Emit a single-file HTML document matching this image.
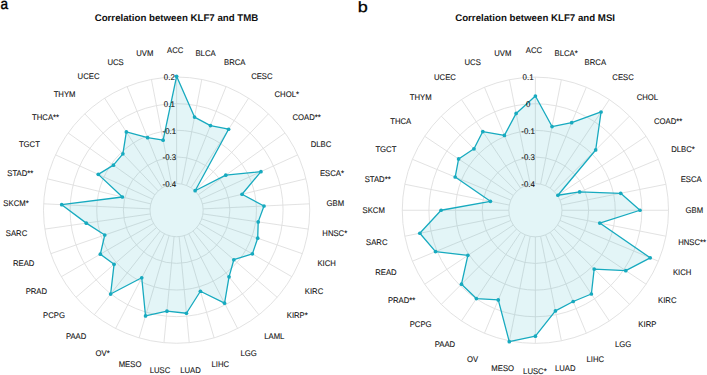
<!DOCTYPE html>
<html><head><meta charset="utf-8"><style>
html,body{margin:0;padding:0;background:#fff;}
body{width:707px;height:375px;overflow:hidden;}
svg{display:block;font-family:"Liberation Sans",sans-serif;text-rendering:geometricPrecision;}
.lb{font-size:8.3px;fill:#111;stroke:#111;stroke-width:0.1px;text-anchor:middle;dominant-baseline:central;}
.tk{font-size:8.4px;fill:#111;stroke:#111;stroke-width:0.1px;text-anchor:middle;dominant-baseline:central;}
.tt{font-size:9.7px;font-weight:bold;fill:#111;}
.pl{font-size:15px;font-weight:bold;fill:#000;}
</style></head><body>
<svg width="707" height="375" viewBox="0 0 707 375">
<rect width="707" height="375" fill="#fff"/>
<text transform="translate(0.55,8.85) scale(0.88,1)" class="pl" style="font-size:15.5px;font-weight:normal;stroke:#000;stroke-width:0.4px">a</text>
<text transform="translate(357.7,11.6) scale(1.2,1)" class="pl" style="font-weight:normal;stroke:#000;stroke-width:0.25px">b</text>
<text x="94.7" y="21" class="tt">Correlation between KLF7 and TMB</text>
<text x="455.2" y="21" class="tt">Correlation between KLF7 and MSI</text>
<circle cx="176.6" cy="210.15" r="26.60" fill="none" stroke="#dfdfdf" stroke-width="0.9"/>
<circle cx="176.6" cy="210.15" r="53.23" fill="none" stroke="#dfdfdf" stroke-width="0.9"/>
<circle cx="176.6" cy="210.15" r="79.86" fill="none" stroke="#dfdfdf" stroke-width="0.9"/>
<circle cx="176.6" cy="210.15" r="106.49" fill="none" stroke="#dfdfdf" stroke-width="0.9"/>
<circle cx="176.6" cy="210.15" r="133.12" fill="none" stroke="#dfdfdf" stroke-width="0.9"/>
<line x1="176.60" y1="183.55" x2="176.60" y2="77.03" stroke="#dfdfdf" stroke-width="0.9"/>
<line x1="181.63" y1="184.03" x2="201.79" y2="79.44" stroke="#dfdfdf" stroke-width="0.9"/>
<line x1="186.49" y1="185.46" x2="226.08" y2="86.57" stroke="#dfdfdf" stroke-width="0.9"/>
<line x1="190.98" y1="187.77" x2="248.57" y2="98.16" stroke="#dfdfdf" stroke-width="0.9"/>
<line x1="194.96" y1="190.90" x2="268.46" y2="113.81" stroke="#dfdfdf" stroke-width="0.9"/>
<line x1="198.27" y1="194.72" x2="285.04" y2="132.93" stroke="#dfdfdf" stroke-width="0.9"/>
<line x1="200.80" y1="199.10" x2="297.69" y2="154.85" stroke="#dfdfdf" stroke-width="0.9"/>
<line x1="202.45" y1="203.88" x2="305.97" y2="178.77" stroke="#dfdfdf" stroke-width="0.9"/>
<line x1="203.17" y1="208.88" x2="309.57" y2="203.82" stroke="#dfdfdf" stroke-width="0.9"/>
<line x1="202.93" y1="213.94" x2="308.37" y2="229.09" stroke="#dfdfdf" stroke-width="0.9"/>
<line x1="201.74" y1="218.85" x2="302.40" y2="253.69" stroke="#dfdfdf" stroke-width="0.9"/>
<line x1="199.64" y1="223.45" x2="291.89" y2="276.71" stroke="#dfdfdf" stroke-width="0.9"/>
<line x1="196.70" y1="227.57" x2="277.21" y2="297.33" stroke="#dfdfdf" stroke-width="0.9"/>
<line x1="193.04" y1="231.06" x2="258.89" y2="314.79" stroke="#dfdfdf" stroke-width="0.9"/>
<line x1="188.79" y1="233.79" x2="237.60" y2="328.47" stroke="#dfdfdf" stroke-width="0.9"/>
<line x1="184.09" y1="235.67" x2="214.10" y2="337.88" stroke="#dfdfdf" stroke-width="0.9"/>
<line x1="179.13" y1="236.63" x2="189.25" y2="342.67" stroke="#dfdfdf" stroke-width="0.9"/>
<line x1="174.07" y1="236.63" x2="163.95" y2="342.67" stroke="#dfdfdf" stroke-width="0.9"/>
<line x1="169.11" y1="235.67" x2="139.10" y2="337.88" stroke="#dfdfdf" stroke-width="0.9"/>
<line x1="164.41" y1="233.79" x2="115.60" y2="328.47" stroke="#dfdfdf" stroke-width="0.9"/>
<line x1="160.16" y1="231.06" x2="94.31" y2="314.79" stroke="#dfdfdf" stroke-width="0.9"/>
<line x1="156.50" y1="227.57" x2="75.99" y2="297.33" stroke="#dfdfdf" stroke-width="0.9"/>
<line x1="153.56" y1="223.45" x2="61.31" y2="276.71" stroke="#dfdfdf" stroke-width="0.9"/>
<line x1="151.46" y1="218.85" x2="50.80" y2="253.69" stroke="#dfdfdf" stroke-width="0.9"/>
<line x1="150.27" y1="213.94" x2="44.83" y2="229.09" stroke="#dfdfdf" stroke-width="0.9"/>
<line x1="150.03" y1="208.88" x2="43.63" y2="203.82" stroke="#dfdfdf" stroke-width="0.9"/>
<line x1="150.75" y1="203.88" x2="47.23" y2="178.77" stroke="#dfdfdf" stroke-width="0.9"/>
<line x1="152.40" y1="199.10" x2="55.51" y2="154.85" stroke="#dfdfdf" stroke-width="0.9"/>
<line x1="154.93" y1="194.72" x2="68.16" y2="132.93" stroke="#dfdfdf" stroke-width="0.9"/>
<line x1="158.24" y1="190.90" x2="84.74" y2="113.81" stroke="#dfdfdf" stroke-width="0.9"/>
<line x1="162.22" y1="187.77" x2="104.63" y2="98.16" stroke="#dfdfdf" stroke-width="0.9"/>
<line x1="166.71" y1="185.46" x2="127.12" y2="86.57" stroke="#dfdfdf" stroke-width="0.9"/>
<line x1="171.57" y1="184.03" x2="151.41" y2="79.44" stroke="#dfdfdf" stroke-width="0.9"/>
<polygon points="176.60,76.30 194.53,117.11 210.44,125.62 228.60,129.23 195.13,190.72 225.77,175.14 260.95,171.63 242.04,194.27 264.00,205.99 258.20,221.88 257.70,238.22 252.37,253.90 233.84,259.74 229.03,276.82 224.56,303.17 200.41,291.24 186.45,313.27 166.95,311.21 145.54,315.94 141.74,277.77 110.63,294.04 114.05,264.35 100.34,254.18 104.77,235.01 86.29,223.13 61.70,204.68 122.42,197.01 98.25,174.37 113.44,165.18 122.88,153.81 126.35,131.97 147.60,137.70 163.12,140.22" fill="#17aabf" fill-opacity="0.12" stroke="#17aabf" stroke-width="1.3" stroke-linejoin="round"/>
<circle cx="176.60" cy="76.30" r="1.85" fill="#17aabf"/>
<circle cx="194.53" cy="117.11" r="1.85" fill="#17aabf"/>
<circle cx="210.44" cy="125.62" r="1.85" fill="#17aabf"/>
<circle cx="228.60" cy="129.23" r="1.85" fill="#17aabf"/>
<circle cx="195.13" cy="190.72" r="1.85" fill="#17aabf"/>
<circle cx="225.77" cy="175.14" r="1.85" fill="#17aabf"/>
<circle cx="260.95" cy="171.63" r="1.85" fill="#17aabf"/>
<circle cx="242.04" cy="194.27" r="1.85" fill="#17aabf"/>
<circle cx="264.00" cy="205.99" r="1.85" fill="#17aabf"/>
<circle cx="258.20" cy="221.88" r="1.85" fill="#17aabf"/>
<circle cx="257.70" cy="238.22" r="1.85" fill="#17aabf"/>
<circle cx="252.37" cy="253.90" r="1.85" fill="#17aabf"/>
<circle cx="233.84" cy="259.74" r="1.85" fill="#17aabf"/>
<circle cx="229.03" cy="276.82" r="1.85" fill="#17aabf"/>
<circle cx="224.56" cy="303.17" r="1.85" fill="#17aabf"/>
<circle cx="200.41" cy="291.24" r="1.85" fill="#17aabf"/>
<circle cx="186.45" cy="313.27" r="1.85" fill="#17aabf"/>
<circle cx="166.95" cy="311.21" r="1.85" fill="#17aabf"/>
<circle cx="145.54" cy="315.94" r="1.85" fill="#17aabf"/>
<circle cx="141.74" cy="277.77" r="1.85" fill="#17aabf"/>
<circle cx="110.63" cy="294.04" r="1.85" fill="#17aabf"/>
<circle cx="114.05" cy="264.35" r="1.85" fill="#17aabf"/>
<circle cx="100.34" cy="254.18" r="1.85" fill="#17aabf"/>
<circle cx="104.77" cy="235.01" r="1.85" fill="#17aabf"/>
<circle cx="86.29" cy="223.13" r="1.85" fill="#17aabf"/>
<circle cx="61.70" cy="204.68" r="1.85" fill="#17aabf"/>
<circle cx="122.42" cy="197.01" r="1.85" fill="#17aabf"/>
<circle cx="98.25" cy="174.37" r="1.85" fill="#17aabf"/>
<circle cx="113.44" cy="165.18" r="1.85" fill="#17aabf"/>
<circle cx="122.88" cy="153.81" r="1.85" fill="#17aabf"/>
<circle cx="126.35" cy="131.97" r="1.85" fill="#17aabf"/>
<circle cx="147.60" cy="137.70" r="1.85" fill="#17aabf"/>
<circle cx="163.12" cy="140.22" r="1.85" fill="#17aabf"/>
<text transform="translate(169.30,183.85) scale(0.94,1)" class="tk">-0.4</text>
<text transform="translate(169.30,157.22) scale(0.94,1)" class="tk">-0.3</text>
<text transform="translate(169.30,130.59) scale(0.94,1)" class="tk">-0.1</text>
<text transform="translate(169.30,103.96) scale(0.94,1)" class="tk">0.1</text>
<text transform="translate(169.30,77.33) scale(0.94,1)" class="tk">0.2</text>
<text transform="translate(175.20,50.05) scale(0.93,1)" class="lb">ACC</text>
<text transform="translate(205.54,52.95) scale(0.93,1)" class="lb">BLCA</text>
<text transform="translate(234.78,61.53) scale(0.93,1)" class="lb">BRCA</text>
<text transform="translate(261.86,75.50) scale(0.93,1)" class="lb">CESC</text>
<text transform="translate(286.72,94.34) scale(0.93,1)" class="lb">CHOL*</text>
<text transform="translate(306.68,117.37) scale(0.93,1)" class="lb">COAD**</text>
<text transform="translate(321.01,143.76) scale(0.93,1)" class="lb">DLBC</text>
<text transform="translate(331.88,172.56) scale(0.93,1)" class="lb">ESCA*</text>
<text transform="translate(335.32,202.72) scale(0.93,1)" class="lb">GBM</text>
<text transform="translate(334.77,233.16) scale(0.93,1)" class="lb">HNSC*</text>
<text transform="translate(326.68,262.78) scale(0.93,1)" class="lb">KICH</text>
<text transform="translate(314.02,290.50) scale(0.93,1)" class="lb">KIRC</text>
<text transform="translate(297.25,315.32) scale(0.93,1)" class="lb">KIRP*</text>
<text transform="translate(274.29,336.35) scale(0.93,1)" class="lb">LAML</text>
<text transform="translate(248.65,352.83) scale(0.93,1)" class="lb">LGG</text>
<text transform="translate(220.36,364.16) scale(0.93,1)" class="lb">LIHC</text>
<text transform="translate(190.44,369.92) scale(0.93,1)" class="lb">LUAD</text>
<text transform="translate(159.96,369.92) scale(0.93,1)" class="lb">LUSC</text>
<text transform="translate(130.04,364.16) scale(0.93,1)" class="lb">MESO</text>
<text transform="translate(102.65,352.83) scale(0.93,1)" class="lb">OV*</text>
<text transform="translate(76.11,336.35) scale(0.93,1)" class="lb">PAAD</text>
<text transform="translate(54.05,315.32) scale(0.93,1)" class="lb">PCPG</text>
<text transform="translate(36.38,290.50) scale(0.93,1)" class="lb">PRAD</text>
<text transform="translate(23.72,262.78) scale(0.93,1)" class="lb">READ</text>
<text transform="translate(16.53,233.16) scale(0.93,1)" class="lb">SARC</text>
<text transform="translate(15.98,202.72) scale(0.93,1)" class="lb">SKCM*</text>
<text transform="translate(20.32,172.56) scale(0.93,1)" class="lb">STAD**</text>
<text transform="translate(29.39,143.76) scale(0.93,1)" class="lb">TGCT</text>
<text transform="translate(45.52,117.37) scale(0.93,1)" class="lb">THCA**</text>
<text transform="translate(64.58,94.34) scale(0.93,1)" class="lb">THYM</text>
<text transform="translate(88.54,75.50) scale(0.93,1)" class="lb">UCEC</text>
<text transform="translate(115.62,61.53) scale(0.93,1)" class="lb">UCS</text>
<text transform="translate(144.86,52.95) scale(0.93,1)" class="lb">UVM</text>
<circle cx="535.4" cy="210.25" r="26.60" fill="none" stroke="#dfdfdf" stroke-width="0.9"/>
<circle cx="535.4" cy="210.25" r="53.23" fill="none" stroke="#dfdfdf" stroke-width="0.9"/>
<circle cx="535.4" cy="210.25" r="79.86" fill="none" stroke="#dfdfdf" stroke-width="0.9"/>
<circle cx="535.4" cy="210.25" r="106.49" fill="none" stroke="#dfdfdf" stroke-width="0.9"/>
<circle cx="535.4" cy="210.25" r="133.12" fill="none" stroke="#dfdfdf" stroke-width="0.9"/>
<line x1="535.40" y1="183.65" x2="535.40" y2="77.13" stroke="#dfdfdf" stroke-width="0.9"/>
<line x1="540.59" y1="184.16" x2="561.37" y2="79.69" stroke="#dfdfdf" stroke-width="0.9"/>
<line x1="545.58" y1="185.67" x2="586.34" y2="87.26" stroke="#dfdfdf" stroke-width="0.9"/>
<line x1="550.18" y1="188.13" x2="609.36" y2="99.56" stroke="#dfdfdf" stroke-width="0.9"/>
<line x1="554.21" y1="191.44" x2="629.53" y2="116.12" stroke="#dfdfdf" stroke-width="0.9"/>
<line x1="557.52" y1="195.47" x2="646.09" y2="136.29" stroke="#dfdfdf" stroke-width="0.9"/>
<line x1="559.98" y1="200.07" x2="658.39" y2="159.31" stroke="#dfdfdf" stroke-width="0.9"/>
<line x1="561.49" y1="205.06" x2="665.96" y2="184.28" stroke="#dfdfdf" stroke-width="0.9"/>
<line x1="562.00" y1="210.25" x2="668.52" y2="210.25" stroke="#dfdfdf" stroke-width="0.9"/>
<line x1="561.49" y1="215.44" x2="665.96" y2="236.22" stroke="#dfdfdf" stroke-width="0.9"/>
<line x1="559.98" y1="220.43" x2="658.39" y2="261.19" stroke="#dfdfdf" stroke-width="0.9"/>
<line x1="557.52" y1="225.03" x2="646.09" y2="284.21" stroke="#dfdfdf" stroke-width="0.9"/>
<line x1="554.21" y1="229.06" x2="629.53" y2="304.38" stroke="#dfdfdf" stroke-width="0.9"/>
<line x1="550.18" y1="232.37" x2="609.36" y2="320.94" stroke="#dfdfdf" stroke-width="0.9"/>
<line x1="545.58" y1="234.83" x2="586.34" y2="333.24" stroke="#dfdfdf" stroke-width="0.9"/>
<line x1="540.59" y1="236.34" x2="561.37" y2="340.81" stroke="#dfdfdf" stroke-width="0.9"/>
<line x1="535.40" y1="236.85" x2="535.40" y2="343.37" stroke="#dfdfdf" stroke-width="0.9"/>
<line x1="530.21" y1="236.34" x2="509.43" y2="340.81" stroke="#dfdfdf" stroke-width="0.9"/>
<line x1="525.22" y1="234.83" x2="484.46" y2="333.24" stroke="#dfdfdf" stroke-width="0.9"/>
<line x1="520.62" y1="232.37" x2="461.44" y2="320.94" stroke="#dfdfdf" stroke-width="0.9"/>
<line x1="516.59" y1="229.06" x2="441.27" y2="304.38" stroke="#dfdfdf" stroke-width="0.9"/>
<line x1="513.28" y1="225.03" x2="424.71" y2="284.21" stroke="#dfdfdf" stroke-width="0.9"/>
<line x1="510.82" y1="220.43" x2="412.41" y2="261.19" stroke="#dfdfdf" stroke-width="0.9"/>
<line x1="509.31" y1="215.44" x2="404.84" y2="236.22" stroke="#dfdfdf" stroke-width="0.9"/>
<line x1="508.80" y1="210.25" x2="402.28" y2="210.25" stroke="#dfdfdf" stroke-width="0.9"/>
<line x1="509.31" y1="205.06" x2="404.84" y2="184.28" stroke="#dfdfdf" stroke-width="0.9"/>
<line x1="510.82" y1="200.07" x2="412.41" y2="159.31" stroke="#dfdfdf" stroke-width="0.9"/>
<line x1="513.28" y1="195.47" x2="424.71" y2="136.29" stroke="#dfdfdf" stroke-width="0.9"/>
<line x1="516.59" y1="191.44" x2="441.27" y2="116.12" stroke="#dfdfdf" stroke-width="0.9"/>
<line x1="520.62" y1="188.13" x2="461.44" y2="99.56" stroke="#dfdfdf" stroke-width="0.9"/>
<line x1="525.22" y1="185.67" x2="484.46" y2="87.26" stroke="#dfdfdf" stroke-width="0.9"/>
<line x1="530.21" y1="184.16" x2="509.43" y2="79.69" stroke="#dfdfdf" stroke-width="0.9"/>
<polygon points="535.40,96.00 552.05,126.53 571.67,122.69 601.06,111.98 595.68,149.97 557.87,195.24 579.61,191.94 620.68,193.29 640.00,210.25 599.75,223.05 650.21,257.80 625.78,270.64 594.18,269.03 591.37,294.02 573.20,301.50 555.43,310.93 535.40,336.20 509.26,341.65 498.26,299.92 476.38,298.58 461.47,284.18 467.87,255.37 435.52,251.62 419.83,233.24 441.10,210.25 490.40,201.30 455.17,177.02 458.61,158.94 473.97,148.82 482.80,131.53 504.40,135.42 516.14,113.41" fill="#17aabf" fill-opacity="0.12" stroke="#17aabf" stroke-width="1.3" stroke-linejoin="round"/>
<circle cx="535.40" cy="96.00" r="1.85" fill="#17aabf"/>
<circle cx="552.05" cy="126.53" r="1.85" fill="#17aabf"/>
<circle cx="571.67" cy="122.69" r="1.85" fill="#17aabf"/>
<circle cx="601.06" cy="111.98" r="1.85" fill="#17aabf"/>
<circle cx="595.68" cy="149.97" r="1.85" fill="#17aabf"/>
<circle cx="557.87" cy="195.24" r="1.85" fill="#17aabf"/>
<circle cx="579.61" cy="191.94" r="1.85" fill="#17aabf"/>
<circle cx="620.68" cy="193.29" r="1.85" fill="#17aabf"/>
<circle cx="640.00" cy="210.25" r="1.85" fill="#17aabf"/>
<circle cx="599.75" cy="223.05" r="1.85" fill="#17aabf"/>
<circle cx="650.21" cy="257.80" r="1.85" fill="#17aabf"/>
<circle cx="625.78" cy="270.64" r="1.85" fill="#17aabf"/>
<circle cx="594.18" cy="269.03" r="1.85" fill="#17aabf"/>
<circle cx="591.37" cy="294.02" r="1.85" fill="#17aabf"/>
<circle cx="573.20" cy="301.50" r="1.85" fill="#17aabf"/>
<circle cx="555.43" cy="310.93" r="1.85" fill="#17aabf"/>
<circle cx="535.40" cy="336.20" r="1.85" fill="#17aabf"/>
<circle cx="509.26" cy="341.65" r="1.85" fill="#17aabf"/>
<circle cx="498.26" cy="299.92" r="1.85" fill="#17aabf"/>
<circle cx="476.38" cy="298.58" r="1.85" fill="#17aabf"/>
<circle cx="461.47" cy="284.18" r="1.85" fill="#17aabf"/>
<circle cx="467.87" cy="255.37" r="1.85" fill="#17aabf"/>
<circle cx="435.52" cy="251.62" r="1.85" fill="#17aabf"/>
<circle cx="419.83" cy="233.24" r="1.85" fill="#17aabf"/>
<circle cx="441.10" cy="210.25" r="1.85" fill="#17aabf"/>
<circle cx="490.40" cy="201.30" r="1.85" fill="#17aabf"/>
<circle cx="455.17" cy="177.02" r="1.85" fill="#17aabf"/>
<circle cx="458.61" cy="158.94" r="1.85" fill="#17aabf"/>
<circle cx="473.97" cy="148.82" r="1.85" fill="#17aabf"/>
<circle cx="482.80" cy="131.53" r="1.85" fill="#17aabf"/>
<circle cx="504.40" cy="135.42" r="1.85" fill="#17aabf"/>
<circle cx="516.14" cy="113.41" r="1.85" fill="#17aabf"/>
<text transform="translate(528.10,183.95) scale(0.94,1)" class="tk">-0.4</text>
<text transform="translate(528.10,157.32) scale(0.94,1)" class="tk">-0.3</text>
<text transform="translate(528.10,130.69) scale(0.94,1)" class="tk">-0.1</text>
<text transform="translate(528.10,104.06) scale(0.94,1)" class="tk">0</text>
<text transform="translate(528.10,77.43) scale(0.94,1)" class="tk">0.1</text>
<text transform="translate(534.00,50.15) scale(0.93,1)" class="lb">ACC</text>
<text transform="translate(566.17,53.23) scale(0.93,1)" class="lb">BLCA*</text>
<text transform="translate(595.34,62.35) scale(0.93,1)" class="lb">BRCA</text>
<text transform="translate(623.06,77.17) scale(0.93,1)" class="lb">CESC</text>
<text transform="translate(647.35,97.10) scale(0.93,1)" class="lb">CHOL</text>
<text transform="translate(668.18,121.39) scale(0.93,1)" class="lb">COAD**</text>
<text transform="translate(683.00,149.11) scale(0.93,1)" class="lb">DLBC*</text>
<text transform="translate(691.22,179.18) scale(0.93,1)" class="lb">ESCA</text>
<text transform="translate(694.30,210.45) scale(0.93,1)" class="lb">GBM</text>
<text transform="translate(692.12,241.72) scale(0.93,1)" class="lb">HNSC**</text>
<text transform="translate(682.10,271.79) scale(0.93,1)" class="lb">KICH</text>
<text transform="translate(667.28,299.51) scale(0.93,1)" class="lb">KIRC</text>
<text transform="translate(647.35,323.80) scale(0.93,1)" class="lb">KIRP</text>
<text transform="translate(623.06,343.73) scale(0.93,1)" class="lb">LGG</text>
<text transform="translate(595.34,358.55) scale(0.93,1)" class="lb">LIHC</text>
<text transform="translate(565.27,367.67) scale(0.93,1)" class="lb">LUAD</text>
<text transform="translate(534.90,370.75) scale(0.93,1)" class="lb">LUSC*</text>
<text transform="translate(502.73,367.67) scale(0.93,1)" class="lb">MESO</text>
<text transform="translate(472.66,358.55) scale(0.93,1)" class="lb">OV</text>
<text transform="translate(444.94,343.73) scale(0.93,1)" class="lb">PAAD</text>
<text transform="translate(420.65,323.80) scale(0.93,1)" class="lb">PCPG</text>
<text transform="translate(401.62,299.51) scale(0.93,1)" class="lb">PRAD**</text>
<text transform="translate(385.90,271.79) scale(0.93,1)" class="lb">READ</text>
<text transform="translate(376.78,241.72) scale(0.93,1)" class="lb">SARC</text>
<text transform="translate(373.70,210.45) scale(0.93,1)" class="lb">SKCM</text>
<text transform="translate(377.68,179.18) scale(0.93,1)" class="lb">STAD**</text>
<text transform="translate(385.90,149.11) scale(0.93,1)" class="lb">TGCT</text>
<text transform="translate(400.72,121.39) scale(0.93,1)" class="lb">THCA</text>
<text transform="translate(420.65,97.10) scale(0.93,1)" class="lb">THYM</text>
<text transform="translate(444.94,77.17) scale(0.93,1)" class="lb">UCEC</text>
<text transform="translate(472.66,62.35) scale(0.93,1)" class="lb">UCS</text>
<text transform="translate(502.73,53.23) scale(0.93,1)" class="lb">UVM</text>
</svg>
</body></html>
